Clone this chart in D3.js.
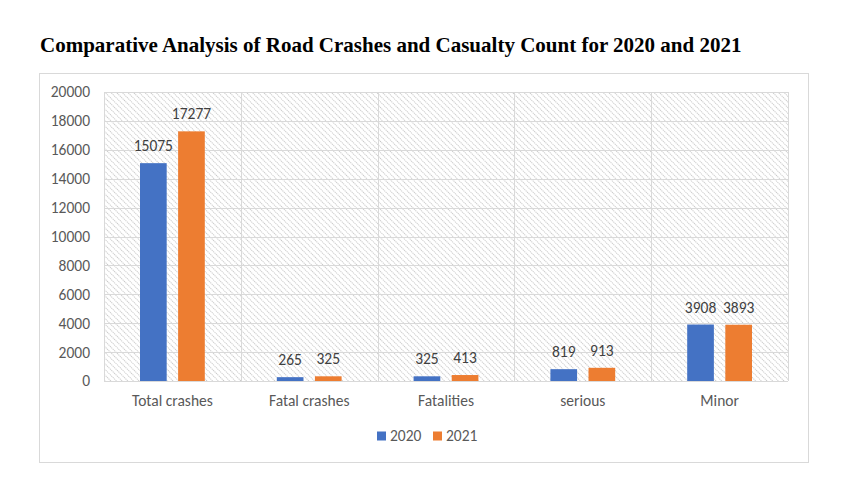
<!DOCTYPE html>
<html lang="en">
<head>
  <meta charset="UTF-8">
  <title>Road Crashes 2020 vs 2021</title>
  <script src="https://d3js.org/d3.v7.min.js"></script>
  <style>
    body { margin: 0; background: #fff; }
  </style>
</head>
<body>
  <svg id="chart" width="843" height="498"></svg>
  <script>
    const categories = ["Total crashes", "Fatal crashes", "Fatalities", "serious", "Minor"];
    const years = ["2020", "2021"];
    const values2020 = [15075, 265, 325, 819, 3908];
    const values2021 = [17277, 325, 413, 913, 3893];
    const yTicks = [0, 2000, 4000, 6000, 8000, 10000, 12000, 14000, 16000, 18000, 20000];
    const colors = ["#4472c4", "#ed7d31"];

    const svg = d3.select("#chart");
    const margin = { top: 92, right: 55, bottom: 117, left: 104 };
    const plotW = 843 - margin.left - margin.right;
    const plotH = 498 - margin.top - margin.bottom;
    const font = "Carlito, Calibri, 'Open Sans', 'Liberation Sans', sans-serif";
    const fs = 15.5;

    // hatch pattern for plot background
    const defs = svg.append("defs");
    const pat = defs.append("pattern")
      .attr("id", "hatch")
      .attr("patternUnits", "userSpaceOnUse")
      .attr("width", 4).attr("height", 4)
      .attr("patternTransform", "rotate(-45)");
    pat.append("line")
      .attr("x1", 0.5).attr("y1", 0).attr("x2", 0.5).attr("y2", 4)
      .attr("stroke", "#c8c8c8").attr("stroke-width", 1)
      .attr("stroke-dasharray", "1.2,0.8");

    // title
    svg.append("text")
      .attr("x", 40).attr("y", 52)
      .attr("font-family", "'Liberation Serif', 'Times New Roman', serif")
      .attr("font-weight", "bold")
      .attr("font-size", 21)
      .attr("fill", "#000")
      .text("Comparative Analysis of Road Crashes and Casualty Count for 2020 and 2021");

    // outer chart border
    svg.append("rect")
      .attr("x", 39.5).attr("y", 73.5)
      .attr("width", 769).attr("height", 389)
      .attr("fill", "none").attr("stroke", "#d9d9d9");

    const g = svg.append("g")
      .attr("transform", "translate(" + margin.left + "," + margin.top + ")");

    const x = d3.scaleBand().domain(categories).range([0, plotW]);
    const xs = d3.scaleBand().domain(years).range([36, x.bandwidth() - 36]).paddingInner(0.3);
    const y = d3.scaleLinear().domain([0, 20000]).range([plotH, 0]);

    g.append("rect")
      .attr("width", plotW).attr("height", plotH)
      .attr("fill", "url(#hatch)");

    // horizontal gridlines
    g.selectAll("line.hgrid").data(yTicks)
      .join("line")
      .attr("class", "hgrid")
      .attr("x1", 0).attr("x2", plotW)
      .attr("y1", d => Math.round(y(d)) + 0.5).attr("y2", d => Math.round(y(d)) + 0.5)
      .attr("stroke", "#d9d9d9");

    // vertical gridlines between categories
    const vlines = categories.map(c => x(c)).concat([plotW]);
    g.selectAll("line.vgrid").data(vlines)
      .join("line")
      .attr("class", "vgrid")
      .attr("x1", d => Math.round(d) + 0.5).attr("x2", d => Math.round(d) + 0.5)
      .attr("y1", 0).attr("y2", plotH)
      .attr("stroke", "#d9d9d9");

    // y tick labels
    g.selectAll("text.ytick").data(yTicks)
      .join("text")
      .attr("class", "ytick")
      .attr("x", -14).attr("y", d => y(d))
      .attr("dy", "0.35em")
      .attr("text-anchor", "end")
      .attr("font-family", font).attr("font-size", fs)
      .attr("fill", "#595959")
      .text(d => d);

    // x labels
    g.selectAll("text.xtick").data(categories)
      .join("text")
      .attr("class", "xtick")
      .attr("x", d => x(d) + x.bandwidth() / 2)
      .attr("y", plotH + 25)
      .attr("text-anchor", "middle")
      .attr("font-family", font).attr("font-size", fs)
      .attr("fill", "#595959")
      .text(d => d);

    const rows = categories.map((c, i) => ({ cat: c, vals: [values2020[i], values2021[i]] }));
    const groups = g.selectAll("g.cat").data(rows)
      .join("g")
      .attr("class", "cat")
      .attr("transform", d => "translate(" + x(d.cat) + ",0)");

    groups.selectAll("rect").data(d => d.vals.map((v, j) => ({ year: years[j], v: v, j: j })))
      .join("rect")
      .attr("x", d => xs(d.year))
      .attr("width", xs.bandwidth())
      .attr("y", d => y(d.v))
      .attr("height", d => plotH - y(d.v))
      .attr("fill", d => colors[d.j]);

    groups.selectAll("text").data(d => d.vals.map((v, j) => ({ year: years[j], v: v })))
      .join("text")
      .attr("x", d => xs(d.year) + xs.bandwidth() / 2)
      .attr("y", d => y(d.v) - 12)
      .attr("text-anchor", "middle")
      .attr("font-family", font).attr("font-size", fs)
      .attr("fill", "#404040")
      .text(d => d.v);

    // legend
    const legend = svg.append("g").attr("transform", "translate(377,436)");
    const items = legend.selectAll("g").data(years)
      .join("g")
      .attr("transform", (d, i) => "translate(" + (i * 56) + ",0)");
    items.append("rect")
      .attr("x", 0).attr("y", -4.5).attr("width", 9).attr("height", 9)
      .attr("fill", (d, i) => colors[i]);
    items.append("text")
      .attr("x", 13).attr("y", 0).attr("dy", "0.35em")
      .attr("font-family", font).attr("font-size", fs)
      .attr("fill", "#595959")
      .text(d => d);
  </script>
</body>
</html>
